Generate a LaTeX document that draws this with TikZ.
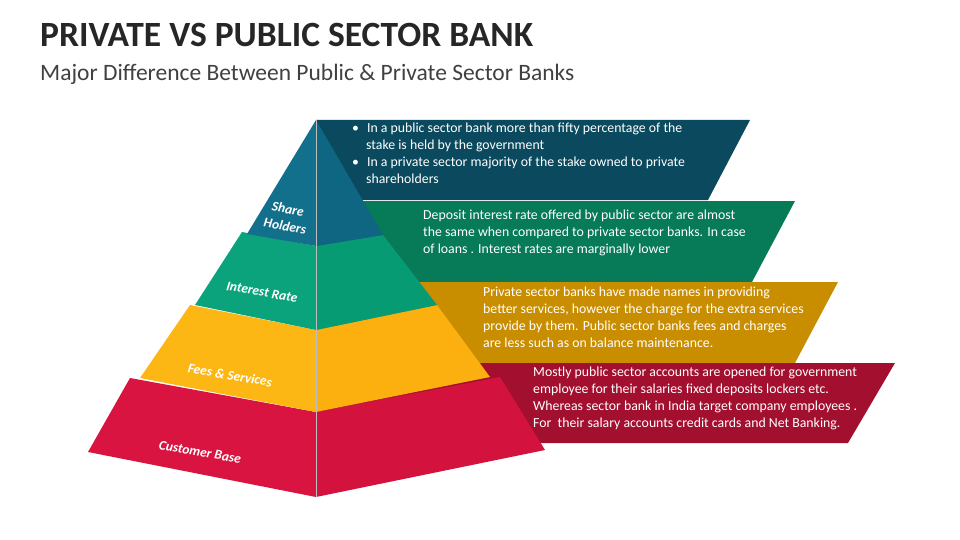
\documentclass[tikz,border=0pt]{standalone}
\usepackage{fontspec}
\setmainfont{Carlito}
\definecolor{bB}{HTML}{0B4A5E}\definecolor{bL}{HTML}{13708C}\definecolor{bR}{HTML}{0E6682}
\definecolor{gB}{HTML}{077A57}\definecolor{gL}{HTML}{0AA37B}\definecolor{gR}{HTML}{079B74}
\definecolor{yB}{HTML}{C98D00}\definecolor{yL}{HTML}{FDB714}\definecolor{yR}{HTML}{FBB010}
\definecolor{rB}{HTML}{A3102F}\definecolor{rL}{HTML}{D91440}\definecolor{rR}{HTML}{D3123D}
\tikzset{
 txt/.style={anchor=north west,align=left,text=white,font=\fontsize{13.8}{17}\selectfont,inner sep=0pt},
 lab/.style={text=white,font=\bfseries\itshape\fontsize{13.5}{17}\selectfont,align=center,rotate=-10,inner sep=0pt},
}
\begin{document}
\begin{tikzpicture}[x=1pt,y=-1pt]
\useasboundingbox (0,0) rectangle (960,540);
\node[anchor=west,font=\bfseries\fontsize{35.5}{38}\selectfont,text=black!85,inner sep=0pt] (title) at (40,35) {PRIVATE VS PUBLIC SECTOR BANK};
\node[anchor=west,font=\fontsize{23.5}{26}\selectfont,text=black!75,inner sep=0pt] (sub) at (40,74) {Major Difference Between Public \& Private Sector Banks};
% banners
\fill[bB] (316,120) -- (750,120) -- (708,200) -- (316,200) -- cycle;
\fill[gB] (316,201) -- (795,201) -- (752,282) -- (316,282) -- cycle;
\fill[yB] (316,282) -- (838,282) -- (795,363) -- (316,363) -- cycle;
\fill[rB] (316,363) -- (895,363) -- (848,443) -- (316,443) -- cycle;
% pyramid
\fill[rL] (130,378) -- (316,412) -- (316,497) -- (88,452) -- cycle;
\fill[rR] (316,412) -- (500,377) -- (545,450) -- (316,497) -- cycle;
\fill[yL] (190,305) -- (316,330) -- (316,412) -- (140,378) -- cycle;
\fill[yR] (316,330) -- (437,305) -- (490,377) -- (316,412) -- cycle;
\fill[gL] (242,232) -- (316,246) -- (316,330) -- (195,305) -- cycle;
\fill[gR] (316,246) -- (383,235) -- (437,305) -- (316,330) -- cycle;
\fill[bL] (316,120) -- (316,246) -- (247,234) -- cycle;
\fill[bR] (316,120) -- (383,235) -- (316,246) -- cycle;
\draw[black!25,line width=0.6pt] (316,120) -- (316,497);
% labels
\node[lab] (l1a) at (288,209) {Share};
\node[lab] (l1b) at (285,226) {Holders};
\node[lab] (l2) at (262,292) {Interest Rate};
\node[lab] (l3) at (230,375) {Fees \& Services};
\node[lab] (l4) at (200,452) {Customer Base};
% texts
\node[txt] (t1) at (352,123) {\textbullet\hspace{8pt}In a public sector bank more than fifty percentage of the\\
\hspace*{14pt}stake is held by the government\\
\textbullet\hspace{8pt}In a private sector majority of the stake owned to private\\
\hspace*{14pt}shareholders};
\node[txt] (t2) at (423,210) {Deposit interest rate offered by public sector are almost\\the same when compared to private sector banks. In case\\of loans . Interest rates are marginally lower};
\node[txt] (t3) at (483,287) {Private sector banks have made names in providing\\better services, however the charge for the extra services\\provide by them. Public sector banks fees and charges\\are less such as on balance maintenance.};
\node[txt] (t4) at (533,367) {Mostly public sector accounts are opened for government\\employee for their salaries fixed deposits lockers etc.\\Whereas sector bank in India target company employees .\\For\ \ their salary accounts credit cards and Net Banking.};
\end{tikzpicture}
\end{document}
